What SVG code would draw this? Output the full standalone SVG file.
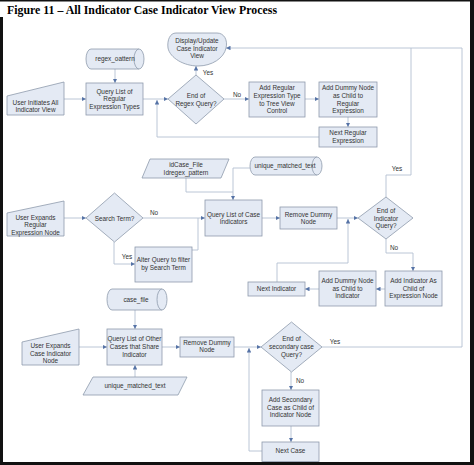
<svg xmlns="http://www.w3.org/2000/svg" width="474" height="465" viewBox="0 0 474 465">
<style>
.n{fill:#e4eaf4;stroke:#8e9aac;stroke-width:0.8}
.t{font-family:"Liberation Sans",Arial,sans-serif;font-size:6.4px;fill:#333;text-anchor:middle}
.l{font-family:"Liberation Sans",Arial,sans-serif;font-size:6.4px;fill:#333;text-anchor:middle}
.c{fill:none;stroke:#b3bfd1;stroke-width:0.9}
.a{marker-end:url(#ah)}
</style>
<defs>
<marker id="ah" viewBox="0 0 6 6" refX="6" refY="3" markerWidth="4.5" markerHeight="4.5" markerUnits="userSpaceOnUse" orient="auto">
<path d="M0,0 L6,3 L0,6 z" fill="#5673a6"/>
</marker>
</defs>
<rect width="474" height="465" fill="#fff"/>
<g id="frame">
<rect x="0" y="0" width="474" height="1.5" fill="#111"/>
<rect x="0" y="17" width="3" height="448" fill="#111"/>
<rect x="470" y="0" width="4" height="465" fill="#111"/>
<rect x="0" y="462" width="474" height="3" fill="#111"/>
<text x="7" y="14" font-family="'Liberation Serif','Times New Roman',serif" font-weight="bold" font-size="12.6" fill="#000" textLength="270" lengthAdjust="spacingAndGlyphs">Figure 11 – All Indicator Case Indicator View Process</text>
</g>
<g id="connectors">
<path class="c a" d="M64,99 L86,99"/>
<path class="c a" d="M115,69 L115,83"/>
<path class="c a" d="M143,99 L168,99"/>
<path class="c a" d="M196,75 L196,66"/>
<path class="c a" d="M224,99 L249,99"/>
<path class="c a" d="M305,99 L319,99"/>
<path class="c a" d="M348,117 L348,127"/>
<path class="c a" d="M319,137 L157,137 L157,100"/>
<path class="c a" d="M386,197 L386,175 L411,175 L411,48 L226,48"/>
<path class="c" d="M322,347 L462,347 L462,48 L411,48"/>
<path class="c a" d="M64,218 L86,218"/>
<path class="c a" d="M143,218 L205,218"/>
<path class="c a" d="M114,242 L114,264 L135,264"/>
<path class="c" d="M192,250 L198,250 L198,218"/>
<path class="c" d="M186,178 L186,192 L233,192"/>
<path class="c a" d="M250,168 L233,168 L233,200"/>
<path class="c a" d="M262,218 L280,218"/>
<path class="c a" d="M337,218 L358,218"/>
<path class="c a" d="M386,239 L386,253 L413,253 L413,271"/>
<path class="c a" d="M385,289 L376,289"/>
<path class="c a" d="M319,289 L305,289"/>
<path class="c a" d="M277,282 L277,263 L348,263 L348,219"/>
<path class="c a" d="M135,310 L135,329"/>
<path class="c a" d="M79,347 L107,347"/>
<path class="c a" d="M135,377 L135,365"/>
<path class="c a" d="M162,347 L180,347"/>
<path class="c a" d="M234,347 L261,347"/>
<path class="c a" d="M291,372 L291,390"/>
<path class="c a" d="M291,426 L291,442"/>
<path class="c a" d="M262,451 L249,451 L249,348"/>
<text class="l" x="208" y="75">Yes</text>
<text class="l" x="237" y="97">No</text>
<text class="l" x="397" y="171">Yes</text>
<text class="l" x="154" y="215">No</text>
<text class="l" x="127" y="259">Yes</text>
<text class="l" x="394" y="250">No</text>
<text class="l" x="335" y="344">Yes</text>
<text class="l" x="300" y="383">No</text>
</g>
<g id="regex_pattern">
<path class="n" d="M91,49 L139,49 A5,10 0 0 1 139,69 L91,69 A5,10 0 0 1 91,49 Z"/>
<path class="n" fill="none" d="M139,49 A5,10 0 0 0 139,69"/>
<text class="t" x="115" y="61">regex_oattern</text>
</g>
<g id="query_regex">
<rect class="n" x="86" y="83" width="57" height="32"/>
<text class="t" x="114.5" y="93.7">Query List of</text>
<text class="t" x="114.5" y="101.2">Regular</text>
<text class="t" x="114.5" y="108.7">Expression Types</text>
</g>
<g id="user_initiates">
<polygon class="n" points="7,96 64,82 64,115 7,115"/>
<text class="t" x="35.5" y="105.2">User Initiates All</text>
<text class="t" x="35.5" y="112.2">Indicator View</text>
</g>
<g id="display">
<path class="n" d="M176,33 L217,33 C224,33 228,40 226,48 C224,58 212,66 198,66 C184,66 170,58 168,48 C167,40 170,33 176,33 Z"/>
<text class="t" x="197" y="43.2">Display/Update</text>
<text class="t" x="197" y="50.7">Case Indicator</text>
<text class="t" x="197" y="58.2">View</text>
</g>
<g id="end_regex">
<polygon class="n" points="196,75 224,99 196,124 168,99"/>
<text class="t" x="196" y="98.2">End of</text>
<text class="t" x="196" y="106">Regex Query?</text>
</g>
<g id="add_regular">
<rect class="n" x="249" y="82" width="56" height="35"/>
<text class="t" x="277" y="90.2">Add Regular</text>
<text class="t" x="277" y="98">Expression Type</text>
<text class="t" x="277" y="105.5">to Tree View</text>
<text class="t" x="277" y="113.2">Control</text>
</g>
<g id="add_dummy_regex">
<rect class="n" x="319" y="82" width="58" height="35"/>
<text class="t" x="348" y="90.2">Add Dummy Node</text>
<text class="t" x="348" y="98">as Child to</text>
<text class="t" x="348" y="105.5">Regular</text>
<text class="t" x="348" y="113.2">Expression</text>
</g>
<g id="next_regular">
<rect class="n" x="319" y="127" width="58" height="20"/>
<text class="t" x="348" y="135.2">Next Regular</text>
<text class="t" x="348" y="143">Expression</text>
</g>
<g id="user_expands_regex">
<polygon class="n" points="7,213 64,201 64,236 7,236"/>
<text class="t" x="35.5" y="219.5">User Expands</text>
<text class="t" x="35.5" y="227.2">Regular</text>
<text class="t" x="35.5" y="234.9">Expression Node</text>
</g>
<g id="search_term">
<polygon class="n" points="114.5,193 143,218 114.5,242 86,218"/>
<text class="t" x="114.5" y="220.5">Search Term?</text>
</g>
<g id="alter_query">
<rect class="n" x="135" y="247" width="57" height="35"/>
<text class="t" x="163.5" y="262.2">Alter Query to filter</text>
<text class="t" x="163.5" y="269.5">by Search Term</text>
</g>
<g id="idcase_file">
<polygon class="n" points="150,159 229,159 221,178 142,178"/>
<text class="t" x="186" y="167.2">idCase_File</text>
<text class="t" x="186" y="175">Idregex_pattern</text>
</g>
<g id="unique_matched_1">
<path class="n" d="M255,157 L317,157 A5,9 0 0 1 317,175 L255,175 A5,9 0 0 1 255,157 Z"/>
<path class="n" fill="none" d="M317,157 A5,9 0 0 0 317,175"/>
<text class="t" x="285" y="168.2">unique_matched_text</text>
</g>
<g id="query_case">
<rect class="n" x="205" y="200" width="57" height="36"/>
<text class="t" x="233.5" y="216.5">Query List of Case</text>
<text class="t" x="233.5" y="224">Indicators</text>
</g>
<g id="remove_dummy_1">
<rect class="n" x="280" y="207" width="57" height="22"/>
<text class="t" x="308.5" y="216.7">Remove Dummy</text>
<text class="t" x="308.5" y="224.2">Node</text>
</g>
<g id="end_indicator">
<polygon class="n" points="386,197 413,218 386,239 358,218"/>
<text class="t" x="386" y="213.2">End of</text>
<text class="t" x="386" y="220.5">Indicator</text>
<text class="t" x="386" y="228.2">Query?</text>
</g>
<g id="add_indicator">
<rect class="n" x="385" y="271" width="57" height="35"/>
<text class="t" x="413.5" y="283.2">Add Indicator As</text>
<text class="t" x="413.5" y="290.5">Child of</text>
<text class="t" x="413.5" y="298.2">Expression Node</text>
</g>
<g id="add_dummy_indicator">
<rect class="n" x="319" y="271" width="57" height="35"/>
<text class="t" x="347.5" y="283.2">Add Dummy Node</text>
<text class="t" x="347.5" y="290.5">as Child to</text>
<text class="t" x="347.5" y="298.2">Indicator</text>
</g>
<g id="next_indicator">
<rect class="n" x="248" y="282" width="57" height="14"/>
<text class="t" x="276.5" y="291.2">Next Indicator</text>
</g>
<g id="case_file">
<path class="n" d="M112,289 L162,289 A5,10.5 0 0 1 162,310 L112,310 A5,10.5 0 0 1 112,289 Z"/>
<path class="n" fill="none" d="M162,289 A5,10.5 0 0 0 162,310"/>
<text class="t" x="136" y="301.7">case_file</text>
</g>
<g id="user_expands_case">
<polygon class="n" points="22,342 79,329 79,365 22,365"/>
<text class="t" x="50.5" y="348.2">User Expands</text>
<text class="t" x="50.5" y="355.5">Case Indicator</text>
<text class="t" x="50.5" y="363.2">Node</text>
</g>
<g id="query_other">
<rect class="n" x="107" y="329" width="55" height="36"/>
<text class="t" x="134.5" y="341.2">Query List of Other</text>
<text class="t" x="134.5" y="349">Cases that Share</text>
<text class="t" x="134.5" y="356.5">Indicator</text>
</g>
<g id="unique_matched_2">
<polygon class="n" points="93,377 187,377 178,395 83,395"/>
<text class="t" x="135" y="388.2">unique_matched_text</text>
</g>
<g id="remove_dummy_2">
<rect class="n" x="180" y="337" width="54" height="20"/>
<text class="t" x="207" y="345">Remove Dummy</text>
<text class="t" x="207" y="352.2">Node</text>
</g>
<g id="end_secondary">
<polygon class="n" points="291.5,322 322,347 291.5,372 261,347"/>
<text class="t" x="291.5" y="341.2">End of</text>
<text class="t" x="291.5" y="349">secondary case</text>
<text class="t" x="291.5" y="356.5">Query?</text>
</g>
<g id="add_secondary">
<rect class="n" x="262" y="390" width="57" height="36"/>
<text class="t" x="290.5" y="402.2">Add Secondary</text>
<text class="t" x="290.5" y="410">Case as Child of</text>
<text class="t" x="290.5" y="417.2">Indicator Node</text>
</g>
<g id="next_case">
<rect class="n" x="262" y="442" width="57" height="19.5"/>
<text class="t" x="290.5" y="453.2">Next Case</text>
</g>
</svg>
